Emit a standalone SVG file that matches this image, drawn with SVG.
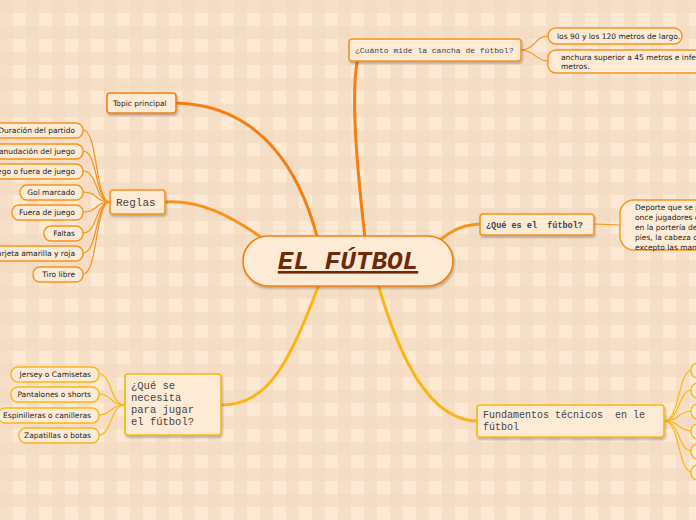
<svg xmlns="http://www.w3.org/2000/svg" width="696" height="520" viewBox="0 0 696 520">
<defs>
<pattern id="bg" width="26" height="26" patternUnits="userSpaceOnUse">
<rect width="26" height="26" fill="#fde9d4"/>
<rect width="13" height="26" fill="#f3dcc2" opacity="0.7"/>
<rect width="26" height="13" fill="#f3dcc2" opacity="0.7"/>
</pattern>
<filter id="sh" x="-10%" y="-10%" width="130%" height="150%"><feDropShadow dx="1" dy="2" stdDeviation="1" flood-color="#000" flood-opacity="0.25"/></filter>
</defs>
<style>
.box{fill:#fdebd6;stroke-width:1.6;filter:url(#sh)}
.o{stroke:#f7931e}
.y{stroke:#fbb614}
.lf{fill:#fdebd6;stroke-width:1.4}
.s{font-family:"DejaVu Sans",sans-serif;font-size:7.5px;fill:#222}
.m{font-family:"Liberation Mono",monospace;fill:#444}
.c path{fill:none}
</style>
<rect width="696" height="520" fill="url(#bg)"/>
<g class="c">
<path d="M318 240 C300 170 260 105 176 103" stroke="#f57f10" stroke-width="3"/>
<path d="M265 240 C230 215 200 200 165 202" stroke="#f7931e" stroke-width="3"/>
<path d="M320 282 C290 360 270 405 221 405" stroke="#fbb614" stroke-width="3"/>
<path d="M365 238 C355 150 350 80 360 50" stroke="#f57f10" stroke-width="3"/>
<path d="M440 240 C455 228 465 225 480 224" stroke="#f7931e" stroke-width="3"/>
<path d="M378 284 C400 360 430 420 477 421" stroke="#fbb614" stroke-width="3"/>
<g stroke="#f7931e" stroke-width="1.2">
<path d="M521 50 C535 50 535 36 548 36"/><path d="M521 50 C535 50 535 61 548 61"/>
<path d="M594 224 C605 224 610 225 620 225"/>
<path d="M110 202 C95 202 98 130 83 130"/><path d="M110 202 C95 202 98 151 83 151"/>
<path d="M110 202 C95 202 98 171 83 171"/><path d="M110 202 C95 202 98 192 83 192"/>
<path d="M110 202 C95 202 98 212 83 212"/><path d="M110 202 C95 202 98 233 83 233"/>
<path d="M110 202 C95 202 98 253 83 253"/><path d="M110 202 C95 202 98 274 83 274"/>
</g>
<g stroke="#fbb614" stroke-width="1.2">
<path d="M125 405 C110 405 112 374 99 374"/><path d="M125 405 C110 405 112 394 99 394"/>
<path d="M125 405 C110 405 112 415 99 415"/><path d="M125 405 C110 405 112 435 99 435"/>
<path d="M664 421 C680 421 678 370 692 370"/><path d="M664 421 C680 421 678 390 692 390"/>
<path d="M664 421 C680 421 678 411 692 411"/><path d="M664 421 C680 421 678 431 692 431"/>
<path d="M664 421 C680 421 678 451 692 451"/><path d="M664 421 C680 421 678 472 692 472"/>
</g>
</g>
<g id="center"><rect x="243" y="236" width="210" height="50" rx="25" class="box" stroke="#f08010" stroke-width="2"/>
<text x="348" y="269" text-anchor="middle" font-family="Liberation Mono,monospace" font-size="26" font-weight="bold" font-style="italic" text-decoration="underline" fill="#6b2a0a">EL FÚTBOL</text></g>
<g id="cancha"><rect x="349" y="39" width="172" height="22" rx="3" class="box o"/><text x="355" y="53" class="m" font-size="8">¿Cuánto mide la cancha de fútbol?</text></g>
<g id="c1"><rect x="548" y="28" width="134" height="16" rx="8" class="lf o"/><text x="557" y="39" class="s">los 90 y los 120 metros de largo.</text></g>
<g id="c2"><rect x="548" y="50" width="160" height="23" rx="8" class="lf o"/><text x="561" y="59.500" class="s">anchura superior a 45 metros e inferior a</text><text x="561" y="68.500" class="s">metros.</text></g>
<g id="topic"><rect x="107" y="93" width="69" height="20" rx="3" class="box" stroke="#f57f10"/><text x="113" y="106" class="s" font-size="8.5">Topic principal</text></g>
<g id="reglas"><rect x="110" y="190" width="55" height="24" rx="3" class="box o"/><text x="116" y="206" class="m" font-size="11">Reglas</text></g>
<g class="s" text-anchor="end">
<g id="r1"><rect x="-10" y="123" width="93" height="15" rx="7" class="lf o"/><text x="75" y="133">Duración del partido</text></g>
<g id="r2"><rect x="-10" y="144" width="93" height="15" rx="7" class="lf o"/><text x="75" y="154">Reanudación del juego</text></g>
<g id="r3"><rect x="-10" y="164" width="93" height="15" rx="7" class="lf o"/><text x="75" y="174">Juego o fuera de juego</text></g>
<g id="r4"><rect x="20" y="185" width="63" height="15" rx="7" class="lf o"/><text x="75" y="195">Gol marcado</text></g>
<g id="r5"><rect x="12" y="205" width="71" height="15" rx="7" class="lf o"/><text x="75" y="215">Fuera de juego</text></g>
<g id="r6"><rect x="44" y="226" width="39" height="15" rx="7" class="lf o"/><text x="75" y="236">Faltas</text></g>
<g id="r7"><rect x="-10" y="246" width="93" height="15" rx="7" class="lf o"/><text x="75" y="256">Tarjeta amarilla y roja</text></g>
<g id="r8"><rect x="33" y="267" width="50" height="15" rx="7" class="lf o"/><text x="75" y="277">Tiro libre</text></g>
<g id="n1"><rect x="11" y="367" width="88" height="15" rx="7" class="lf y"/><text x="91" y="377">Jersey o Camisetas</text></g>
<g id="n2"><rect x="11" y="387" width="88" height="15" rx="7" class="lf y"/><text x="91" y="397">Pantalones o shorts</text></g>
<g id="n3"><rect x="-2" y="408" width="101" height="15" rx="7" class="lf y"/><text x="91" y="418">Espinilleras o canilleras</text></g>
<g id="n4"><rect x="19" y="428" width="80" height="15" rx="7" class="lf y"/><text x="91" y="438">Zapatillas o botas</text></g>
</g>
<g id="que"><rect x="480" y="214" width="114" height="21" rx="3" class="box o"/><text x="486" y="227.500" class="m" font-size="8.5" font-weight="bold" fill="#111" xml:space="preserve">¿Qué es el  fútbol?</text></g>
<g id="def"><rect x="620" y="200" width="100" height="50" rx="14" class="lf o"/>
<text class="s" font-size="7.5"><tspan x="635" y="210">Deporte que se practica</tspan><tspan x="635" y="220">once jugadores que</tspan><tspan x="635" y="230">en la portería del</tspan><tspan x="635" y="240">pies, la cabeza o</tspan><tspan x="635" y="250">excepto las manos</tspan></text></g>
<g id="necesita"><rect x="125" y="374" width="96" height="61" rx="3" class="box y"/>
<text class="m" font-size="10.5"><tspan x="131" y="389">¿Qué se</tspan><tspan x="131" y="401">necesita</tspan><tspan x="131" y="413">para jugar</tspan><tspan x="131" y="425">el fútbol?</tspan></text></g>
<g id="fund"><rect x="477" y="405" width="187" height="32" rx="3" class="box y"/>
<text class="m" font-size="10" xml:space="preserve"><tspan x="483" y="418">Fundamentos técnicos  en le</tspan><tspan x="483" y="430">fútbol</tspan></text></g>
<g id="f1"><rect x="691" y="363" width="20" height="15" rx="7" class="lf y"/></g>
<g id="f2"><rect x="691" y="383" width="20" height="15" rx="7" class="lf y"/></g>
<g id="f3"><rect x="691" y="404" width="20" height="15" rx="7" class="lf y"/></g>
<g id="f4"><rect x="691" y="424" width="20" height="15" rx="7" class="lf y"/></g>
<g id="f5"><rect x="691" y="444" width="20" height="15" rx="7" class="lf y"/></g>
<g id="f6"><rect x="691" y="465" width="20" height="15" rx="7" class="lf y"/></g>
</svg>
